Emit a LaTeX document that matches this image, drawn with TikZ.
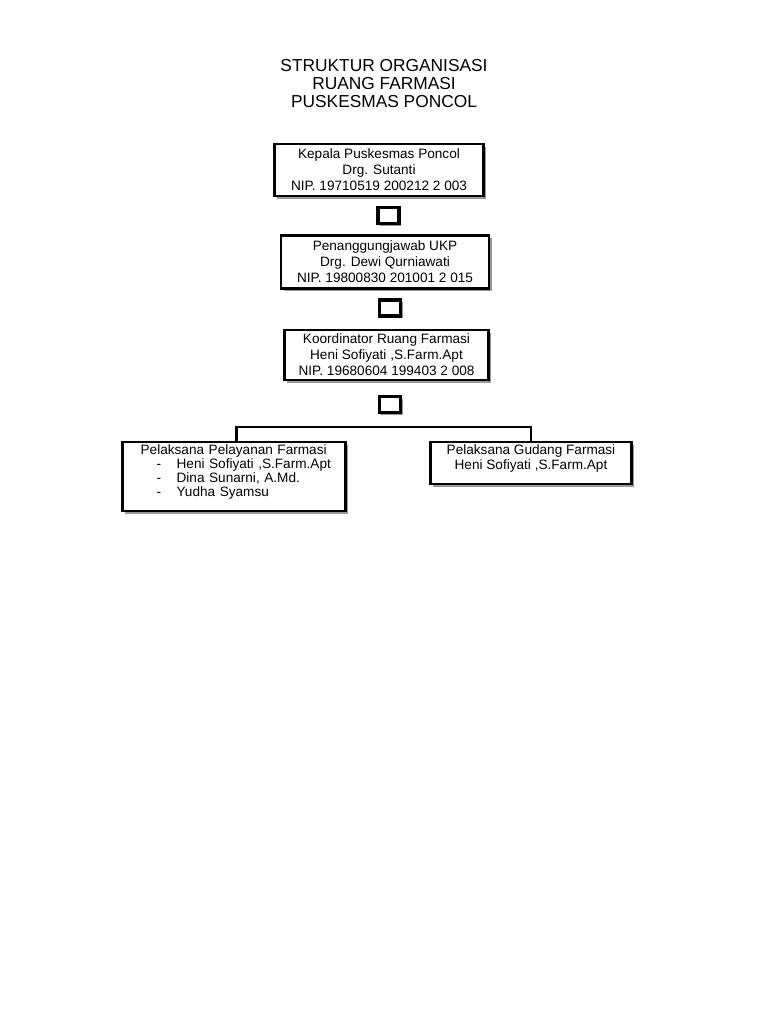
\documentclass[tikz,border=0pt]{standalone}
\usepackage{fontspec}
\setmainfont{Liberation Sans}
\usetikzlibrary{shadows}
\newcommand{\pitem}[1]{\hspace*{12pt}\makebox[15pt][l]{-}\mbox{#1}}

\begin{document}
\begin{tikzpicture}[x=0.75pt, y=-0.75pt,
  b/.style={draw, line width=2pt, fill=white, align=center, inner sep=2pt,
            font=\fontsize{10.2}{12}\selectfont,
            drop shadow={shadow xshift=2pt, shadow yshift=-2pt, fill=black!40, opacity=1}},
  sq/.style={draw, line width=2.6pt, fill=white, inner sep=0pt,
             minimum width=16pt, minimum height=12pt,
             drop shadow={shadow xshift=1.5pt, shadow yshift=-1.5pt, fill=black!40, opacity=1}}]
\useasboundingbox[fill=white] (0,0) rectangle (768,1024);
\node[align=center, font=\fontsize{13}{13.5}\selectfont] (t) at (384,84)
  {STRUKTUR ORGANISASI\\RUANG FARMASI\\PUSKESMAS PONCOL};
\node[b, minimum width=157pt, minimum height=39pt] (kp) at (379,170)
  {Kepala Puskesmas Poncol\\Drg. Sutanti\\NIP. 19710519 200212 2 003};
\node[sq] (s1) at (388.5,215.5) {};
\node[b, minimum width=156pt, minimum height=40pt] (pj) at (385,262)
  {Penanggungjawab UKP\\Drg. Dewi Qurniawati\\NIP. 19800830 201001 2 015};
\node[sq] (s2) at (390,308) {};
\node[b, minimum width=153pt, minimum height=37.5pt] (kr) at (386.5,355)
  {Koordinator Ruang Farmasi\\Heni Sofiyati ,S.Farm.Apt\\NIP. 19680604 199403 2 008};
\node[sq] (s3) at (390,404.5) {};
\node[b, align=left, text width=140pt, inner xsep=13.7pt, minimum height=51.5pt,
      font=\fontsize{10.2}{10.5}\selectfont] (pl) at (234,476.5)
  {Pelaksana Pelayanan Farmasi\\
   \pitem{Heni Sofiyati ,S.Farm.Apt}\\
   \pitem{Dina Sunarni, A.Md.}\\
   \pitem{Yudha Syamsu}\rule[-9pt]{0pt}{0pt}};
\node[b, minimum width=151pt, minimum height=29.8pt,
      font=\fontsize{10.2}{11.25}\selectfont] (pg) at (531,463)
  {Pelaksana Gudang Farmasi\\Heni Sofiyati ,S.Farm.Apt\rule[-9pt]{0pt}{0pt}};
\coordinate (bar) at (384,427);
\draw[line width=2pt] ([xshift=2pt]pl.north) |- (bar) -| (pg.north);
\end{tikzpicture}
\end{document}
